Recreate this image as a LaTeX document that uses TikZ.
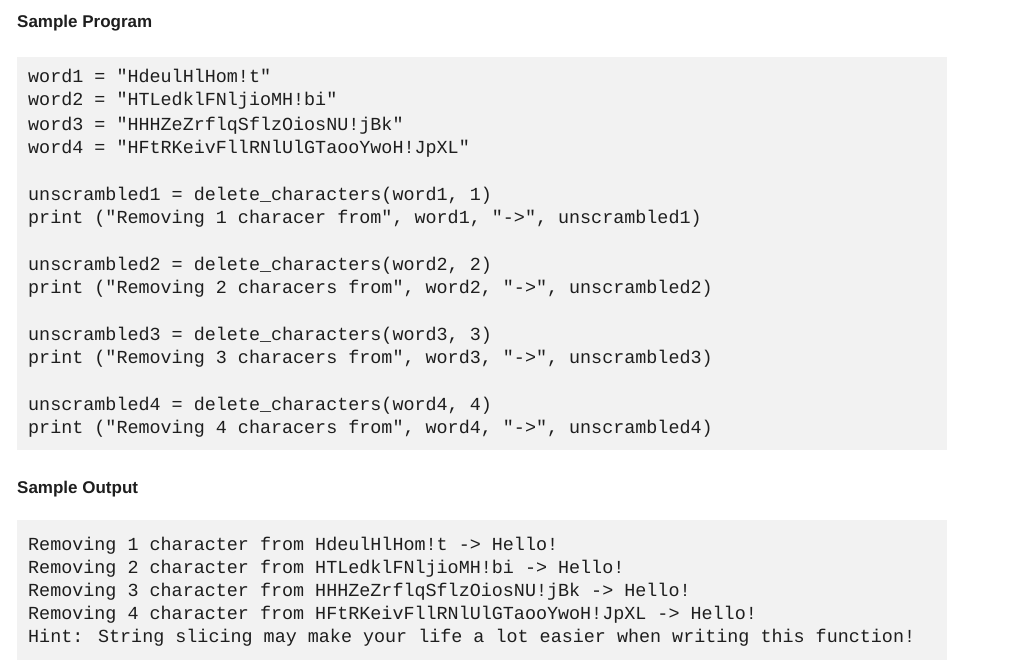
\documentclass[tikz,border=0pt]{standalone}
\usepackage{fontspec}
\newfontfamily\codefont{Liberation Mono}
\newfontfamily\headfont{Liberation Sans}
\definecolor{boxbg}{HTML}{F2F2F2}
\definecolor{ink}{HTML}{1E1E1E}
\begin{document}
\begin{tikzpicture}[x=1pt,y=-1pt,
  code/.style={anchor=base west,inner sep=0pt,text=ink,font=\codefont\fontsize{18.4}{20}\selectfont},
  head/.style={anchor=base west,inner sep=0pt,text=ink,font=\headfont\bfseries\fontsize{17}{20}\selectfont}]
\useasboundingbox (0,0) rectangle (1024,666);
\fill[boxbg] (17,57) rectangle (947,450);
\fill[boxbg] (17,520) rectangle (947,660);
\node[head] (h1) at (17,28) {Sample Program};
\node[head] (h2) at (17,493) {Sample Output};
\node[code] (l1) at (28,83) {word1 = "HdeulHlHom!t"};
\node[code] (l2) at (28,106) {word2 = "HTLedklFNljioMH!bi"};
\node[code] (l3) at (28,130) {word3 = "HHHZeZrflqSflzOiosNU!jBk"};
\node[code] (l4) at (28,153) {word4 = "HFtRKeivFllRNlUlGTaooYwoH!JpXL"};
\node[code] (l5) at (28,200) {unscrambled1 = delete\_characters(word1, 1)};
\node[code] (l6) at (28,223) {print ("Removing 1 characer from", word1, "->", unscrambled1)};
\node[code] (l7) at (28,270) {unscrambled2 = delete\_characters(word2, 2)};
\node[code] (l8) at (28,293) {print ("Removing 2 characers from", word2, "->", unscrambled2)};
\node[code] (l9) at (28,340) {unscrambled3 = delete\_characters(word3, 3)};
\node[code] (l10) at (28,363) {print ("Removing 3 characers from", word3, "->", unscrambled3)};
\node[code] (l11) at (28,410) {unscrambled4 = delete\_characters(word4, 4)};
\node[code] (l12) at (28,433) {print ("Removing 4 characers from", word4, "->", unscrambled4)};
\node[code] (o1) at (28,550) {Removing 1 character from HdeulHlHom!t -> Hello!};
\node[code] (o2) at (28,573) {Removing 2 character from HTLedklFNljioMH!bi -> Hello!};
\node[code] (o3) at (28,596) {Removing 3 character from HHHZeZrflqSflzOiosNU!jBk -> Hello!};
\node[code] (o4) at (28,619) {Removing 4 character from HFtRKeivFllRNlUlGTaooYwoH!JpXL -> Hello!};
\node[code] (o5) at (28,642) {Hint: String slicing may make your life a lot easier when writing this function!};
\end{tikzpicture}
\end{document}
